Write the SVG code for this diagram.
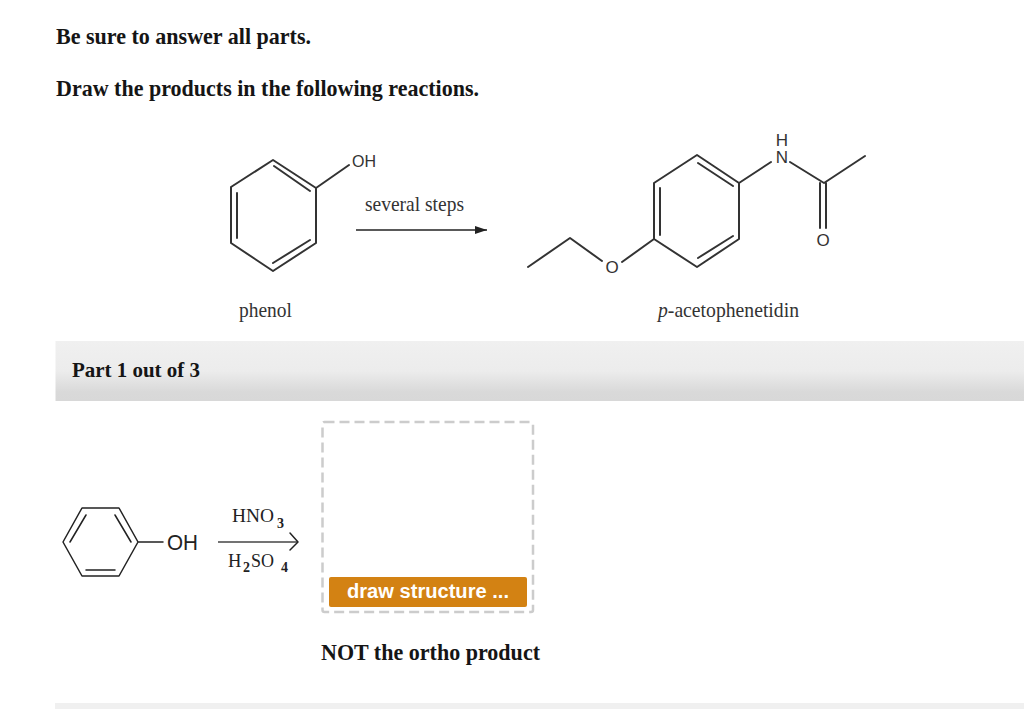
<svg xmlns="http://www.w3.org/2000/svg" width="1024" height="709" viewBox="0 0 1024 709">
<style>
.h{font-family:"Liberation Serif","Times New Roman",serif;font-weight:bold;fill:#151515}
.s{font-family:"Liberation Serif","Times New Roman",serif;fill:#333}
.r{font-family:"Liberation Serif","Times New Roman",serif;fill:#222}
.d{font-family:"Liberation Serif","Times New Roman",serif;fill:#222;font-weight:bold;font-size:14px}
.a{font-family:"Liberation Sans",Arial,sans-serif;fill:#333}
.b{fill:none;stroke:#333;stroke-width:2;stroke-linecap:round;stroke-linejoin:round}
.c{fill:none;stroke:#222;stroke-width:1.5;stroke-linecap:round;stroke-linejoin:round}
</style>
<defs>
<linearGradient id="g" x1="0" y1="0" x2="0" y2="1"><stop offset="0" stop-color="#f0f0f0"/><stop offset="0.5" stop-color="#ececec"/><stop offset="0.85" stop-color="#d9d9d9"/><stop offset="1" stop-color="#d8d8d8"/></linearGradient>
<marker id="ah" markerWidth="12" markerHeight="8" refX="12" refY="4" orient="auto" markerUnits="userSpaceOnUse"><path d="M0 0L12 4L0 8Z" fill="#222"/></marker>
</defs>
<rect width="1024" height="709" fill="#fff"/>
<text class="h" x="56" y="44" font-size="23" textLength="255" lengthAdjust="spacingAndGlyphs">Be sure to answer all parts.</text>
<text class="h" x="56" y="95.500" font-size="23" textLength="423" lengthAdjust="spacingAndGlyphs">Draw the products in the following reactions.</text>
<g id="phenol-top">
<path class="b" d="M273 160L316 188V243L273 271L231 243V187ZM316 188L349 165M274 166L310 191M237 193V238M273 263L310 240"/>
<text class="a" x="352" y="167" font-size="17" textLength="24" lengthAdjust="spacingAndGlyphs">OH</text>
<text class="s" x="239" y="317" font-size="22" textLength="53" lengthAdjust="spacingAndGlyphs">phenol</text>
</g>
<g id="acetophenetidin">
<path class="b" d="M697 155L739 183V239L697 267L654 239V183ZM739 183L771 162M790 162L824 183L865 156M820 183V228M826 183V228M698 163L733 186M660 188V235M698 258L733 236M654 239L622 262M602 261L570 238L528 267"/>
<text class="a" x="782" y="146" font-size="17" text-anchor="middle">H</text>
<text class="a" x="782" y="163" font-size="17" text-anchor="middle">N</text>
<text class="a" x="823" y="246" font-size="17" text-anchor="middle">O</text>
<text class="a" x="612" y="273" font-size="17" text-anchor="middle">O</text>
<text class="s" x="658" y="317" font-size="22" textLength="141" lengthAdjust="spacingAndGlyphs"><tspan font-style="italic">p</tspan>-acetophenetidin</text>
</g>
<g id="connectors">
<line x1="356" y1="230" x2="487" y2="230" stroke="#222" stroke-width="1.500" marker-end="url(#ah)"/>
<line x1="218" y1="542" x2="298" y2="542" stroke="#444" stroke-width="1.500"/>
<path class="c" d="M290 533L298 542L290 550"/>
</g>
<text class="s" x="365" y="211" font-size="22" textLength="99" lengthAdjust="spacingAndGlyphs">several steps</text>
<g id="part-band">
<rect x="55.500" y="341" width="968.500" height="60" fill="url(#g)"/>
<text class="h" x="72" y="377" font-size="21" textLength="128" lengthAdjust="spacingAndGlyphs">Part 1 out of 3</text>
</g>
<g id="phenol-bottom">
<path class="c" d="M82 508H119L138 542L119 576H82L63 542ZM138 542H163M115 515L131 542M86 515L70 542M86 570H115"/>
<text class="a" style="fill:#222" x="167" y="550" font-size="22" textLength="31" lengthAdjust="spacingAndGlyphs">OH</text>
</g>
<g id="reagents">
<text class="r" x="232" y="522" font-size="18.500" textLength="42" lengthAdjust="spacingAndGlyphs">HNO</text>
<text class="d" x="277" y="528">3</text>
<text class="r" x="228" y="567" font-size="18.500">H</text>
<text class="d" x="243" y="572">2</text>
<text class="r" x="251" y="567" font-size="18.500" textLength="23" lengthAdjust="spacingAndGlyphs">SO</text>
<text class="d" x="281" y="572">4</text>
</g>
<g id="answer-box">
<rect x="322.500" y="422" width="210.500" height="190" rx="2" fill="none" stroke="#ccc" stroke-width="2.500" stroke-dasharray="10 5"/>
<rect x="329" y="577" width="198" height="30" rx="2" fill="#d38213"/>
<text x="428" y="598" font-family="Liberation Sans,Arial,sans-serif" font-weight="bold" font-size="20" fill="#fff" text-anchor="middle" textLength="162" lengthAdjust="spacingAndGlyphs">draw structure ...</text>
</g>
<text class="h" x="321" y="660" font-size="23" textLength="219" lengthAdjust="spacingAndGlyphs">NOT the ortho product</text>
<rect id="bottom-band" x="55" y="703" width="969" height="6" fill="#f0f0f0"/>
</svg>
